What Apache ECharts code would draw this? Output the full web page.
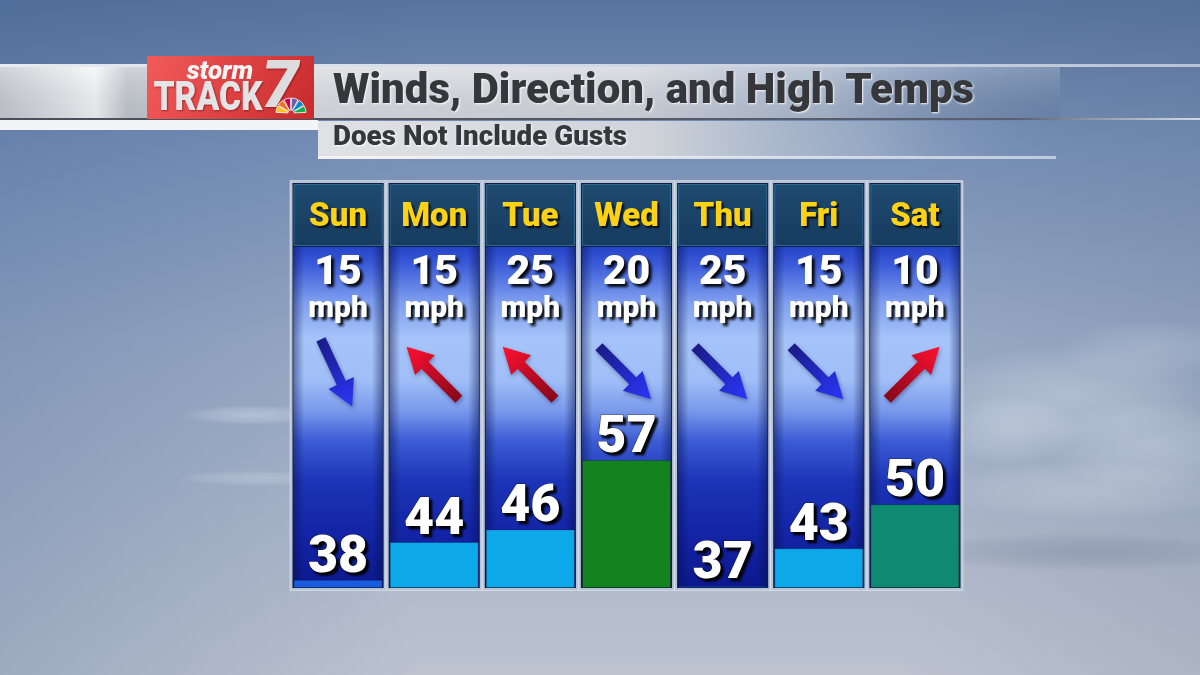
<!DOCTYPE html>
<html><head><meta charset="utf-8">
<script src="https://cdn.jsdelivr.net/npm/echarts@6/dist/echarts.min.js"></script>
<style>html,body{margin:0;padding:0;width:1200px;height:675px;overflow:hidden}#c{width:1200px;height:675px}</style>
</head><body><div id="c"></div>
<script>
// ---- data ----
const titleText = 'Winds, Direction, and High Temps';
const subtitleText = 'Does Not Include Gusts';
const days = ['Sun', 'Mon', 'Tue', 'Wed', 'Thu', 'Fri', 'Sat'];
const windSpeeds = [15, 15, 25, 20, 25, 15, 10];
const windUnit = 'mph';
const windFrom = [335, 135, 135, 315, 315, 315, 225]; // compass degrees the wind blows from
const highs = [38, 44, 46, 57, 37, 43, 50];

// ---- layout / style ----
const Y_MIN = 36.7, Y_MAX = 90.8;
const FONT = 'Roboto, "Liberation Sans", sans-serif';
const LG = echarts.graphic.LinearGradient;
const RG = echarts.graphic.RadialGradient;

const chart = echarts.init(document.getElementById('c'), null, { renderer: 'canvas' });

function renderPanel(params, api) {
  const i = api.value(0);
  const speed = api.value(1);
  const cs = params.coordSys;
  const cx = api.coord([i, Y_MIN])[0];
  const band = api.size([1, 0])[0];
  const w = band - 5;
  const x0 = cx - w / 2;
  const top = cs.y, bottom = cs.y + cs.height;
  const headH = 64;
  const headTop = top - headH;
  const txtShadow = { textShadowColor: 'rgba(0,0,0,0.95)', textShadowBlur: 3, textShadowOffsetX: 3, textShadowOffsetY: 3 };
  return {
    type: 'group',
    children: [
      { type: 'rect', shape: { x: cx - band / 2, y: headTop - 2.5, width: band, height: bottom - headTop + 5 },
        style: { fill: '#b8c3d3', stroke: 'rgba(255,255,255,0.4)', lineWidth: 1 } },
      { type: 'rect', shape: { x: x0, y: headTop, width: w, height: bottom - headTop },
        style: { fill: '#0d1d4c' } },
      { type: 'rect', shape: { x: x0 + 1.5, y: headTop + 1.5, width: w - 3, height: headH - 3 },
        style: { fill: new LG(0, 0, 0, 1, [{ offset: 0, color: '#1f4a70' }, { offset: 1, color: '#163b5e' }]), stroke: '#2d6a90', lineWidth: 1 } },
      { type: 'rect', shape: { x: x0 + 1, y: top, width: w - 2, height: bottom - top - 1 },
        style: { fill: new LG(0, 0, 0, 1, [
          { offset: 0, color: '#2644c8' }, { offset: 0.05, color: '#3a5ad8' },
          { offset: 0.16, color: '#7e9ef0' }, { offset: 0.27, color: '#a6c4fa' },
          { offset: 0.39, color: '#a0bef7' }, { offset: 0.48, color: '#7a9aec' },
          { offset: 0.57, color: '#3c5cd4' }, { offset: 0.69, color: '#1c34b8' },
          { offset: 0.84, color: '#1324a6' }, { offset: 1, color: '#0c188e' }]) } },
      { type: 'rect', shape: { x: x0 + 1, y: top, width: w - 2, height: bottom - top - 1 },
        style: { fill: new LG(0, 0, 1, 0, [
          { offset: 0, color: 'rgba(5,15,70,0.45)' }, { offset: 0.12, color: 'rgba(5,15,70,0)' },
          { offset: 0.88, color: 'rgba(5,15,70,0)' }, { offset: 1, color: 'rgba(5,15,70,0.45)' }]) } },
      { type: 'text', x: cx, y: headTop + 35,
        style: { text: days[i], font: '900 33px ' + FONT, fill: '#fbd214', align: 'center', verticalAlign: 'middle',
          textShadowColor: 'rgba(0,0,0,0.85)', textShadowBlur: 2, textShadowOffsetX: 2, textShadowOffsetY: 2 } },
      { type: 'text', x: cx, y: top + 26.5,
        style: Object.assign({ text: String(speed), font: '900 41px ' + FONT, fill: '#ffffff', align: 'center', verticalAlign: 'middle' }, txtShadow) },
      { type: 'text', x: cx, y: top + 62,
        style: Object.assign({ text: windUnit, font: '900 30px ' + FONT, fill: '#ffffff', align: 'center', verticalAlign: 'middle' }, txtShadow) }
    ]
  };
}

function renderArrow(params, api) {
  const i = api.value(0);
  const from = api.value(1);
  const cs = params.coordSys;
  const cx = api.coord([i, Y_MIN])[0] - 1.5;
  const cy = cs.y + 126;
  const toDir = (from + 180) % 360;
  const warm = from > 90 && from < 270;
  const L = 74, h = L / 2, sw = 5, hw = 14, hl = 26;
  const stops = warm
    ? [{ offset: 0, color: '#860818' }, { offset: 1, color: '#ff1030' }]
    : [{ offset: 0, color: '#1a1c86' }, { offset: 1, color: '#2a36fa' }];
  return {
    type: 'polygon', x: cx, y: cy, rotation: -toDir * Math.PI / 180,
    shape: { points: [[-sw, h], [-sw, -h + hl], [-hw, -h + hl], [0, -h], [hw, -h + hl], [sw, -h + hl], [sw, h]] },
    style: { fill: new LG(0, 1, 0, 0, stops), shadowBlur: 4, shadowColor: 'rgba(0,0,40,0.35)', shadowOffsetX: 1, shadowOffsetY: 2 }
  };
}

// feathers of the logo peacock
const peacockColors = ['#f8c21a', '#f37021', '#cc004c', '#6460aa', '#0089d0', '#0db14b'];
const peacock = peacockColors.map((c, k) => ({
  type: 'sector', z: 22,
  shape: { cx: 291, cy: 113, r: 15, r0: 3, startAngle: Math.PI + k * Math.PI / 6 + 0.04, endAngle: Math.PI + (k + 1) * Math.PI / 6 - 0.04 },
  style: { fill: c, stroke: '#ffffff', lineWidth: 0.8 }
}));

// soft cloud glow in the backdrop (squashed radial blobs)
function blob(cx, cy, rx, ry, rgb, a) {
  return { type: 'circle', z: -90, x: cx, y: cy, scaleY: ry / rx, shape: { cx: 0, cy: 0, r: rx },
    style: { fill: new RG(0.5, 0.5, 0.5, [{ offset: 0, color: 'rgba(' + rgb + ',' + a + ')' }, { offset: 0.6, color: 'rgba(' + rgb + ',' + (a * 0.55) + ')' }, { offset: 1, color: 'rgba(' + rgb + ',0)' }]) } };
}
const cloudBlobs = [
  blob(1070, 395, 140, 50, '232,238,248', 0.3), blob(1150, 445, 110, 45, '232,238,248', 0.3),
  blob(1010, 430, 70, 35, '232,238,248', 0.3), blob(1090, 490, 150, 30, '232,238,248', 0.25),
  blob(1150, 350, 90, 30, '232,238,248', 0.2), blob(1080, 552, 170, 20, '70,85,115', 0.2),
  blob(252, 415, 70, 10, '232,238,248', 0.35), blob(255, 478, 80, 8, '232,238,248', 0.25)
];

const option = {
  animation: false,
  grid: { left: 290, right: 237, top: 247, bottom: 87 },
  xAxis: { type: 'category', data: days, show: false },
  yAxis: { type: 'value', min: Y_MIN, max: Y_MAX, startValue: Y_MIN, show: false, splitLine: { show: false } },
  visualMap: {
    show: false, type: 'piecewise', seriesIndex: 1,
    pieces: [
      { lt: 40, color: '#1a5ce0' },
      { gte: 40, lt: 48, color: '#0ca8e8' },
      { gte: 48, lt: 54, color: '#0e8a72' },
      { gte: 54, color: '#14821e' }
    ]
  },
  graphic: [
    { type: 'rect', z: -100, shape: { x: 0, y: 0, width: 1200, height: 675 },
      style: { fill: new LG(0, 0, 0, 1, [
        { offset: 0, color: '#58749e' }, { offset: 0.22, color: '#7890b6' },
        { offset: 0.5, color: '#98a9c4' }, { offset: 0.8, color: '#aeb8ca' }, { offset: 1, color: '#bcc3cf' }]) } },
    { type: 'rect', z: -99, shape: { x: 0, y: 0, width: 1200, height: 675 },
      style: { fill: new LG(0, 0, 1, 0, [
        { offset: 0, color: 'rgba(50,85,140,0.22)' }, { offset: 0.35, color: 'rgba(50,85,140,0)' },
        { offset: 0.75, color: 'rgba(60,80,110,0)' }, { offset: 1, color: 'rgba(60,80,110,0.12)' }]) } },
    ...cloudBlobs,
    // banner
    { type: 'rect', z: 10, shape: { x: 0, y: 64, width: 1200, height: 3 },
      style: { fill: new LG(0, 0, 1, 0, [{ offset: 0, color: 'rgba(255,255,255,0.85)' }, { offset: 1, color: 'rgba(255,255,255,0.55)' }]) } },
    { type: 'rect', z: 10, shape: { x: 0, y: 67, width: 1060, height: 52 },
      style: { fill: new LG(0, 0, 1, 0, [
        { offset: 0, color: '#c6c9cf' }, { offset: 0.06, color: '#e6e7ea' }, { offset: 0.09, color: '#f7f7f7' },
        { offset: 0.12, color: '#c4c8ce' }, { offset: 0.3, color: '#dcdee2' }, { offset: 0.6, color: '#d4d8de' },
        { offset: 0.78, color: 'rgba(185,196,212,0.8)' }, { offset: 1, color: 'rgba(120,145,185,0)' }]) } },
    { type: 'rect', z: 11, shape: { x: 0, y: 67, width: 1060, height: 52 },
      style: { fill: new LG(0, 0, 0, 1, [{ offset: 0, color: 'rgba(255,255,255,0.2)' }, { offset: 1, color: 'rgba(60,70,90,0.1)' }]) } },
    { type: 'rect', z: 11, shape: { x: 0, y: 118, width: 1200, height: 2 },
      style: { fill: new LG(0, 0, 1, 0, [{ offset: 0, color: '#4a4e58' }, { offset: 0.85, color: '#5a6070' }, { offset: 1, color: 'rgba(235,238,245,0.8)' }]) } },
    { type: 'rect', z: 10, shape: { x: 0, y: 120, width: 318, height: 10 }, style: { fill: '#f3f4f6' } },
    { type: 'rect', z: 10, shape: { x: 318, y: 121, width: 738, height: 36 },
      style: { fill: new LG(0, 0, 1, 0, [
        { offset: 0, color: '#e0e1e4' }, { offset: 0.45, color: '#d0d4da' },
        { offset: 0.75, color: 'rgba(170,185,205,0.6)' }, { offset: 1, color: 'rgba(120,145,185,0)' }]) } },
    { type: 'rect', z: 11, shape: { x: 318, y: 156, width: 738, height: 3 },
      style: { fill: new LG(0, 0, 1, 0, [{ offset: 0, color: '#f4f4f6' }, { offset: 1, color: 'rgba(240,242,246,0.6)' }]) } },
    { type: 'text', z: 12, x: 333, y: 92,
      style: { text: titleText, font: '900 42px ' + FONT, fill: '#36373b', verticalAlign: 'middle',
        textShadowColor: 'rgba(255,255,255,0.9)', textShadowBlur: 2, textShadowOffsetX: 1, textShadowOffsetY: 1 } },
    { type: 'text', z: 12, x: 333, y: 138, scaleX: 1.03,
      style: { text: subtitleText, font: '900 27px ' + FONT, fill: '#36373b', verticalAlign: 'middle',
        textShadowColor: 'rgba(255,255,255,0.9)', textShadowBlur: 2, textShadowOffsetX: 1, textShadowOffsetY: 1 } },
    // logo
    { type: 'rect', z: 20, shape: { x: 147, y: 56, width: 167, height: 63 },
      style: { fill: new LG(0, 0, 1, 1, [{ offset: 0, color: '#f25a5a' }, { offset: 1, color: '#c92b2d' }]) } },
    { type: 'text', z: 21, x: 220, y: 72,
      style: { text: 'storm', font: 'italic 900 26px ' + FONT, fill: '#f4f4f4', align: 'center', verticalAlign: 'middle' } },
    { type: 'text', z: 21, x: 208, y: 100, scaleX: 0.84,
      style: { text: 'TRACK', font: '900 40px ' + FONT, fill: '#e4e4e6', align: 'center', verticalAlign: 'middle',
        textShadowColor: 'rgba(90,0,0,0.5)', textShadowBlur: 2, textShadowOffsetX: 1, textShadowOffsetY: 1 } },
    { type: 'text', z: 21, x: 280, y: 90,
      style: { text: '7', font: 'italic 900 66px ' + FONT, fill: '#dcdcde', align: 'center', verticalAlign: 'middle',
        textShadowColor: 'rgba(90,0,0,0.5)', textShadowBlur: 2, textShadowOffsetX: 1, textShadowOffsetY: 1 } },
    ...peacock
  ],
  series: [
    {
      type: 'custom', name: 'panels', z: 1, clip: false,
      encode: { x: 0, y: 1 },
      data: days.map((d, i) => [i, windSpeeds[i]]),
      renderItem: renderPanel
    },
    {
      type: 'bar', name: 'High', z: 3, data: highs, barWidth: 89,
      itemStyle: { borderColor: 'rgba(0,0,0,0.22)', borderWidth: 1 },
      label: {
        show: true, position: 'top', distance: -5, formatter: '{c}',
        color: '#ffffff', fontSize: 52, fontWeight: 900, fontFamily: 'Roboto',
        textBorderColor: 'rgba(0,0,0,0.5)', textBorderWidth: 1.2,
        textShadowColor: 'rgba(0,0,0,0.95)', textShadowBlur: 2, textShadowOffsetX: 3, textShadowOffsetY: 3
      }
    },
    {
      type: 'custom', name: 'wind', z: 4, clip: false,
      encode: { x: 0 },
      data: days.map((d, i) => [i, windFrom[i]]),
      renderItem: renderArrow
    }
  ]
};
chart.setOption(option);
</script>
</body></html>
